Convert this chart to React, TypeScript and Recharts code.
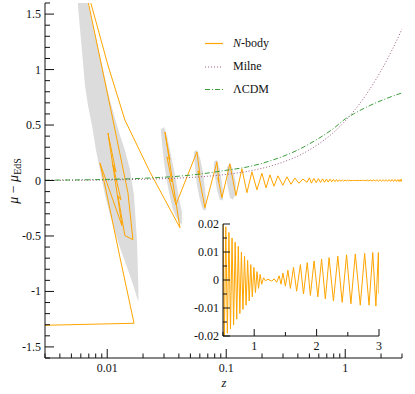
import React from 'react';
import { ComposedChart, Line, Area, XAxis, YAxis } from 'recharts';

// N-body trajectory, in path order: [z, mu - mu_EdS]
const nbodyLow: [number, number][] = [
  [0.003, -1.305], [0.0168, -1.287], [0.0128, -0.694], [0.00975, -0.084], [0.00868, 0.159],
  [0.0133, -0.407], [0.01014, 0.428], [0.01183, 0.078], [0.01117, 0.141], [0.01303, -0.173],
  [0.0123, -0.137], [0.01408, -0.497], [0.01644, -0.533], [0.01493, -0.11], [0.01074, 0.635],
  [0.00702, 1.578], [0.0065, 1.758], [0.00688, 1.731], [0.0073, 1.596], [0.01014, 1.039],
  [0.01408, 0.545], [0.02284, 0.078], [0.04082, -0.425], [0.03054, 0.437], [0.03364, 0.186],
  [0.03175, 0.213], [0.03497, -0.012], [0.03298, 0.024], [0.03779, -0.218], [0.05673, 0.258],
  [0.06012, 0.051], [0.05784, 0.087], [0.06622, -0.245], [0.08353, 0.168], [0.08685, -0.012],
  [0.08517, 0.024], [0.09203, -0.155],
];

const nbodyMid: [number, number][] = [
  [0.1074, 0.15], [0.1206, -0.137], [0.1355, 0.105], [0.1493, -0.11], [0.1644, 0.078],
  [0.1811, -0.084], [0.1995, 0.065], [0.216, -0.066], [0.233, 0.051], [0.252, -0.052],
  [0.272, 0.042], [0.299, -0.043], [0.324, 0.033], [0.35, -0.034], [0.378, 0.022],
  [0.408, -0.025], [0.441, 0.013], [0.477, -0.016],
];

const nbodyHigh: [number, number][] = [
  [0.5, 0.024], [0.52, -0.024], [0.545, 0.019], [0.57, -0.019], [0.595, 0.017],
  [0.62, -0.0175], [0.645, 0.015], [0.67, -0.016], [0.695, 0.0135], [0.72, -0.014],
  [0.745, 0.012], [0.77, -0.012], [0.795, 0.01], [0.82, -0.0105], [0.845, 0.0085],
  [0.87, -0.009], [0.895, 0.007], [0.92, -0.0075], [0.945, 0.0055], [0.97, -0.006],
  [0.995, 0.0045], [1.02, -0.0045], [1.045, 0.003], [1.07, -0.003], [1.095, 0.002],
  [1.12, -0.0015], [1.15, 0.0008], [1.18, -0.0003], [1.22, 0.0003], [1.28, -0.0004],
  [1.32, 0.0004], [1.36, -0.0008], [1.4, 0.0015], [1.43, -0.0015], [1.46, 0.0025],
  [1.5, -0.0022], [1.54, 0.0035], [1.58, -0.003], [1.63, 0.0045], [1.68, -0.004],
  [1.74, 0.0055], [1.79, -0.005], [1.85, 0.0062], [1.9, -0.0055], [1.96, 0.0068],
  [2.02, -0.006], [2.08, 0.0075], [2.14, -0.0068], [2.2, 0.008], [2.27, -0.0075],
  [2.34, 0.0085], [2.41, -0.008], [2.48, 0.009], [2.55, -0.0085], [2.62, 0.0093],
  [2.7, -0.009], [2.77, 0.0095], [2.84, -0.009], [2.9, 0.0098], [2.95, -0.0093],
  [2.99, 0.0098], [3.0, -0.005],
];

// grey scatter of the simulation: [z, upper, lower]
const greyBlobs: [number, number, number][][] = [
  [
    [0.00567, 1.7, 1.578], [0.00613, 1.7, 1.174], [0.0065, 1.7, 0.86], [0.00688, 1.605, 0.68],
    [0.00744, 1.443, 0.5], [0.00804, 1.282, 0.276], [0.00868, 1.129, 0.096], [0.00957, 0.922, -0.128],
    [0.01054, 0.725, -0.308], [0.01161, 0.563, -0.461], [0.01279, 0.411, -0.605], [0.01408, 0.276, -0.729],
    [0.01552, 0.096, -0.856], [0.01677, -0.128, -0.964], [0.01777, -0.533, -1.054], [0.01829, -0.982, -1.089],
  ],
  [
    [0.02828, 0.46, 0.44], [0.02997, 0.482, 0.168], [0.03175, 0.41, -0.012], [0.03364, 0.276, -0.146],
    [0.03565, 0.141, -0.263], [0.03779, 0.006, -0.326], [0.04004, -0.155, -0.371], [0.04243, -0.281, -0.398],
  ],
  [[0.0535, 0.26, 0.22], [0.0567, 0.276, -0.039], [0.0601, 0.204, -0.173], [0.0637, 0.078, -0.263], [0.0675, -0.15, -0.27]],
  [[0.0788, 0.17, 0.1], [0.0835, 0.186, -0.084], [0.0885, 0.096, -0.173], [0.0938, -0.08, -0.18]],
  [[0.1014, 0.12, -0.02], [0.1074, 0.159, -0.155], [0.1138, 0.096, -0.173], [0.1206, -0.02, -0.12]],
];

const modelZ = [0.003, 0.01, 0.02, 0.04, 0.06, 0.1, 0.15, 0.2, 0.3, 0.4, 0.5, 0.6, 0.8, 1, 1.2, 1.5, 2, 2.5, 3];
const milneMu = [0.0016, 0.0054, 0.011, 0.022, 0.033, 0.055, 0.082, 0.11, 0.166, 0.22, 0.276, 0.33, 0.435, 0.537, 0.634, 0.774, 0.99, 1.185, 1.365];
const lcdmMu = [0.003, 0.01, 0.02, 0.039, 0.058, 0.092, 0.122, 0.155, 0.218, 0.275, 0.33, 0.38, 0.47, 0.555, 0.605, 0.66, 0.72, 0.76, 0.79];

const xTicks = [0.003, 0.004, 0.005, 0.006, 0.007, 0.008, 0.009, 0.01, 0.02, 0.03, 0.04, 0.05, 0.06, 0.07, 0.08, 0.09,
  0.1, 0.2, 0.3, 0.4, 0.5, 0.6, 0.7, 0.8, 0.9, 1, 2, 3];
const xMajor = [0.01, 0.1, 1];
const yTicks = [-1.6, -1.5, -1.4, -1.3, -1.2, -1.1, -1, -0.9, -0.8, -0.7, -0.6, -0.5, -0.4, -0.3, -0.2, -0.1, 0,
  0.1, 0.2, 0.3, 0.4, 0.5, 0.6, 0.7, 0.8, 0.9, 1, 1.1, 1.2, 1.3, 1.4, 1.5, 1.6];
const yMajor = [-1.5, -1, -0.5, 0, 0.5, 1, 1.5];

const insetXTicks = [0.5, 1, 1.5, 2, 2.5, 3];
const insetXMajor = [1, 2, 3];
const insetYTicks = [-0.02, -0.015, -0.01, -0.005, 0, 0.005, 0.01, 0.015, 0.02];
const insetYMajor = [-0.02, -0.01, 0, 0.01, 0.02];

const nbody = [...nbodyLow, ...nbodyMid, ...nbodyHigh].map(([z, mu]) => ({ z, mu }));
const nbodyInset = nbody.filter((d) => d.z >= 0.44);
const blobData = greyBlobs.map((b) => b.map(([z, hi, lo]) => ({ z, band: [lo, hi] })));
const milne = modelZ.map((z, i) => ({ z, mu: milneMu[i] }));
const lcdm = modelZ.map((z, i) => ({ z, mu: lcdmMu[i] }));

const FONT = 'Liberation Serif, DejaVu Serif, serif';
const ORANGE = '#ffa500';
const axisLine = { stroke: '#111', strokeWidth: 1 };
const txt = { fontFamily: FONT, fontSize: 12, fill: '#111' };
const isIn = (v: number, list: number[]) => list.some((m) => Math.abs(m - v) < 1e-9);

// ticks point inwards, labels sit outside
const makeTick = (side: string, majors: number[], big: number, small: number, labels: boolean) => (p: any) => {
  const v = p.payload.value;
  const major = isIn(v, majors);
  const len = major ? big : small;
  const { x, y } = p;
  let line;
  let label = null;
  if (side === 'bottom') {
    line = <line x1={x} x2={x} y1={y} y2={y - len} stroke="#111" />;
    if (labels && major)
      label = <text x={x} y={y + 14} textAnchor="middle" style={txt}>{String(v)}</text>;
  } else if (side === 'top') {
    line = <line x1={x} x2={x} y1={y} y2={y + len} stroke="#111" />;
  } else if (side === 'left') {
    line = <line x1={x} x2={x + len} y1={y} y2={y} stroke="#111" />;
    if (labels && major)
      label = <text x={x - 4} y={y + 4} textAnchor="end" style={txt}>{String(v)}</text>;
  } else {
    line = <line x1={x} x2={x - len} y1={y} y2={y} stroke="#111" />;
  }
  return <g>{line}{label}</g>;
};

const common = { tickLine: false, tickSize: 0, tickMargin: 0, interval: 0 as const, axisLine, allowDataOverflow: true };

export default function App() {
  return (
    <div style={{ position: 'absolute', left: 0, top: 0, width: 415, height: 394, background: '#fff', fontFamily: FONT }}>
      <div style={{ position: 'absolute', left: 0, top: 0 }}>
        <ComposedChart width={415} height={394} margin={{ top: 3, right: 13, bottom: 6, left: 10 }}>
          <XAxis xAxisId="b" dataKey="z" type="number" scale="log" domain={[0.003, 3]} ticks={xTicks} height={30}
            tick={makeTick('bottom', xMajor, 9, 4.5, true)} {...common} />
          <XAxis xAxisId="t" orientation="top" dataKey="z" type="number" scale="log" domain={[0.003, 3]} ticks={xTicks} height={0}
            tick={makeTick('top', xMajor, 9, 4.5, false)} {...common} />
          <YAxis yAxisId="l" type="number" domain={[-1.6, 1.6]} ticks={yTicks} width={35}
            tick={makeTick('left', yMajor, 9, 5, true)} {...common} />
          <YAxis yAxisId="r" orientation="right" type="number" domain={[-1.6, 1.6]} ticks={yTicks} width={0}
            tick={makeTick('right', yMajor, 9, 5, false)} {...common} />
          {blobData.map((b, i) => (
            <Area key={i} xAxisId="b" yAxisId="l" data={b} dataKey="band" type="linear" stroke="none"
              fill="#dcdcdc" fillOpacity={1} isAnimationActive={false} activeDot={false} />
          ))}
          <Line xAxisId="b" yAxisId="l" data={nbody} dataKey="mu" type="linear" stroke={ORANGE} strokeWidth={1}
            dot={false} activeDot={false} isAnimationActive={false} />
          <Line xAxisId="b" yAxisId="l" data={milne} dataKey="mu" type="monotone" stroke="#9c5a80" strokeWidth={1}
            strokeDasharray="1 2" dot={false} activeDot={false} isAnimationActive={false} />
          <Line xAxisId="b" yAxisId="l" data={lcdm} dataKey="mu" type="monotone" stroke="#3c9c3c" strokeWidth={1}
            strokeDasharray="5 2 1 2" dot={false} activeDot={false} isAnimationActive={false} />
        </ComposedChart>
      </div>

      <div style={{ position: 'absolute', left: 223, top: 224, width: 156, height: 112, background: '#fff' }} />
      <div style={{ position: 'absolute', left: 183, top: 210 }}>
        <ComposedChart width={200} height={145} margin={{ top: 14, right: 4, bottom: 0, left: 0 }}>
          <XAxis xAxisId="b" dataKey="z" type="number" domain={[0.5, 3]} ticks={insetXTicks} height={19}
            tick={makeTick('bottom', insetXMajor, 7, 4, true)} {...common} />
          <XAxis xAxisId="t" orientation="top" dataKey="z" type="number" domain={[0.5, 3]} ticks={insetXTicks} height={0}
            tick={makeTick('top', insetXMajor, 7, 4, false)} {...common} />
          <YAxis yAxisId="l" type="number" domain={[-0.02, 0.02]} ticks={insetYTicks} width={40}
            tick={makeTick('left', insetYMajor, 7, 4, true)} {...common} />
          <YAxis yAxisId="r" orientation="right" type="number" domain={[-0.02, 0.02]} ticks={insetYTicks} width={0}
            tick={makeTick('right', insetYMajor, 7, 4, false)} {...common} />
          <Line xAxisId="b" yAxisId="l" data={nbodyInset} dataKey="mu" type="linear" stroke={ORANGE} strokeWidth={1}
            dot={false} activeDot={false} isAnimationActive={false} />
        </ComposedChart>
      </div>

      <svg width={415} height={394} style={{ position: 'absolute', left: 0, top: 0, pointerEvents: 'none' }}>
        <g style={txt}>
          <line x1={205} x2={223} y1={43.5} y2={43.5} stroke={ORANGE} strokeWidth={1.2} />
          <text x={233} y={47}><tspan fontStyle="italic">N</tspan>-body</text>
          <line x1={205} x2={223} y1={67} y2={67} stroke="#9c5a80" strokeDasharray="1 2" />
          <text x={233} y={70}>Milne</text>
          <line x1={205} x2={223} y1={89.5} y2={89.5} stroke="#3c9c3c" strokeDasharray="5 2 1 2" />
          <text x={233} y={93}>ΛCDM</text>
          <text x={224} y={387} textAnchor="middle" fontStyle="italic" style={{ fontSize: 12.5 }}>z</text>
          <text x={18} y={181} transform="rotate(-90 18 181)" textAnchor="middle" style={{ fontSize: 14 }}>
            <tspan fontStyle="italic">μ</tspan>
            <tspan> − </tspan>
            <tspan fontStyle="italic">μ</tspan>
            <tspan fontSize={10} dy={3}>EdS</tspan>
          </text>
        </g>
      </svg>
    </div>
  );
}
